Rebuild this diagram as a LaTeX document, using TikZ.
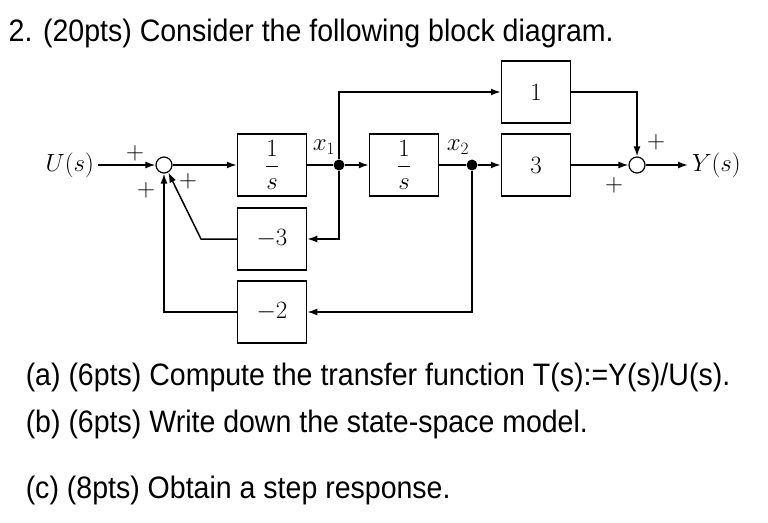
\documentclass[tikz,border=0pt]{standalone}
\usepackage{fontspec}
\setmainfont{Liberation Sans}[FakeStretch=0.92]
\usepackage{amsmath}
\usetikzlibrary{arrows.meta}

\begin{document}
\begin{tikzpicture}[x=1pt,y=-1pt,line width=1.5pt,
		block/.style={draw,line width=1.5pt,minimum width=69pt,minimum height=62pt,inner sep=0pt,font=\fontsize{24}{28}\selectfont},
		sumpt/.style={circle,draw,line width=1.2pt,minimum size=16pt,inner sep=0pt},
		dot/.style={circle,fill,minimum size=11pt,inner sep=0pt},
		sig/.style={-{Latex[length=10pt,width=7pt]}},
		lbl/.style={font=\fontsize{24}{26}\selectfont},
		txt/.style={anchor=west,inner sep=0pt,font=\fontsize{31}{36}\selectfont}]
		\useasboundingbox (0,0) rectangle (768,522);

		% Question text
		\node[txt] (title) at (8,33) {2. (20pts) Consider the following block diagram.};
		\node[txt] (qa) at (25,377) {(a) (6pts) Compute the transfer function T(s):=Y(s)/U(s).};
		\node[txt] (qb) at (25,424) {(b) (6pts) Write down the state-space model.};
		\node[txt] (qc) at (25,490) {(c) (8pts) Obtain a step response.};

		% Blocks
		\node[block] (int1) at (272,165) {$\dfrac{1}{s}$};
		\node[block] (int2) at (404,165) {$\dfrac{1}{s}$};
		\node[block] (gain3) at (536,165) {$3$};
		\node[block] (gain1) at (536,92) {$1$};
		\node[block] (fbA) at (272,239) {$-3$};
		\node[block] (fbB) at (272,312) {$-2$};

		% Summing points and branch dots
		\node[sumpt] (sumA) at (164,165) {};
		\node[sumpt] (sumB) at (637,165) {};
		\node[dot] (x1) at (339,165) {};
		\node[dot] (x2) at (472,165) {};
		\coordinate (uin) at (98,165);
		\coordinate (yout) at (688,165);
		\coordinate (bend) at (201,239);

		% Forward path
		\node[lbl,anchor=east] (ulbl) at (uin) {$U(s)$};
		\node[lbl,anchor=west] (ylbl) at (yout) {$Y(s)$};
		\draw[sig] (uin) -- (sumA);
		\draw[sig] (sumA) -- (int1);
		\draw (int1) -- (x1);
		\draw[sig] (x1) -- (int2);
		\draw (int2) -- (x2);
		\draw[sig] (x2) -- (gain3);
		\draw[sig] (gain3) -- (sumB);
		\draw[sig] (sumB) -- (yout);
		\draw[sig] (x1) |- (gain1);
		\draw[sig] (gain1) -| (sumB);

		% Feedback paths
		\draw[sig] (x1) |- (fbA);
		\draw[sig] (fbA) -- (bend) -- (sumA.-60);
		\draw[sig] (x2) |- (fbB);
		\draw[sig] (fbB) -| (sumA);

		% Signal names and signs
		\node[lbl] (x1lbl) at (324,147) {$x_1$};
		\node[lbl] (x2lbl) at (458,147) {$x_2$};
		\node[lbl] (pA) at (135,153) {$+$};
		\node[lbl] (pB) at (146,190) {$+$};
		\node[lbl] (pC) at (188,181) {$+$};
		\node[lbl] (pD) at (656,142) {$+$};
		\node[lbl] (pE) at (614,185) {$+$};
	\end{tikzpicture}
\end{document}
